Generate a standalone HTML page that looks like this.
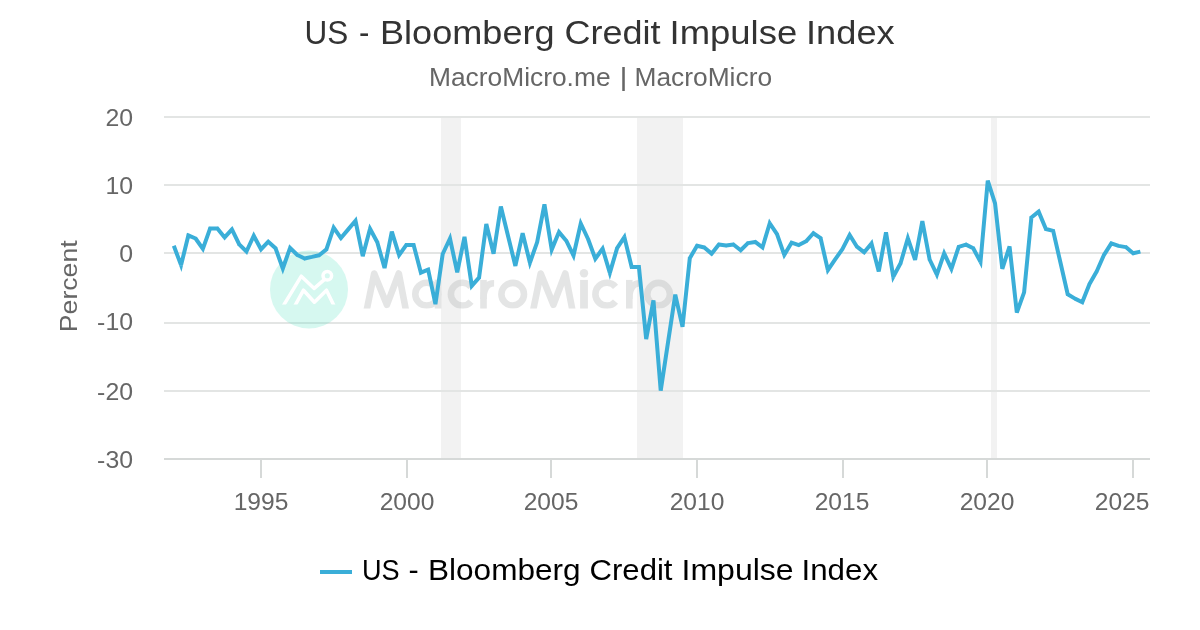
<!DOCTYPE html>
<html><head><meta charset="utf-8"><style>
html,body{margin:0;padding:0;background:#fff;}
svg{display:block;will-change:transform;font-family:"Liberation Sans",sans-serif;}
</style></head><body>
<svg width="1200" height="630" viewBox="0 0 1200 630">
<rect width="1200" height="630" fill="#fff"/>
<text x="304.50" y="44" font-size="33.9" fill="#333333" textLength="43.79" lengthAdjust="spacingAndGlyphs">US</text>
<text x="359.00" y="44" font-size="33.9" fill="#333333" textLength="10.37" lengthAdjust="spacingAndGlyphs">-</text>
<text x="380.00" y="44" font-size="33.9" fill="#333333" textLength="174.64" lengthAdjust="spacingAndGlyphs">Bloomberg</text>
<text x="564.50" y="44" font-size="33.9" fill="#333333" textLength="96.04" lengthAdjust="spacingAndGlyphs">Credit</text>
<text x="669.50" y="44" font-size="33.9" fill="#333333" textLength="127.69" lengthAdjust="spacingAndGlyphs">Impulse</text>
<text x="806.00" y="44" font-size="33.9" fill="#333333" textLength="88.68" lengthAdjust="spacingAndGlyphs">Index</text>
<text x="429.00" y="85.8" font-size="25.4" fill="#666666" textLength="181.55" lengthAdjust="spacingAndGlyphs">MacroMicro.me</text>
<text x="619.50" y="85.8" font-size="25.4" fill="#666666" textLength="8.05" lengthAdjust="spacingAndGlyphs">|</text>
<text x="634.50" y="85.8" font-size="25.4" fill="#666666" textLength="137.56" lengthAdjust="spacingAndGlyphs">MacroMicro</text>
<!-- bands -->
<rect x="441" y="118" width="20" height="340" fill="#f2f2f2"/>
<rect x="637" y="118" width="46" height="340" fill="#f2f2f2"/>
<rect x="991" y="118" width="6" height="340" fill="#f2f2f2"/>
<rect x="164" y="116" width="986" height="2" fill="#e3e5e4"/>
<rect x="164" y="184" width="986" height="2" fill="#e3e5e4"/>
<rect x="164" y="252" width="986" height="2" fill="#e3e5e4"/>
<rect x="164" y="322" width="986" height="2" fill="#e3e5e4"/>
<rect x="164" y="390" width="986" height="2" fill="#e3e5e4"/>
<rect x="164" y="458" width="986" height="2" fill="#d6d9d8"/>
<rect x="260" y="460" width="2" height="18" fill="#d6d9d8"/>
<rect x="406" y="460" width="2" height="18" fill="#d6d9d8"/>
<rect x="550" y="460" width="2" height="18" fill="#d6d9d8"/>
<rect x="696" y="460" width="2" height="18" fill="#d6d9d8"/>
<rect x="842" y="460" width="2" height="18" fill="#d6d9d8"/>
<rect x="986" y="460" width="2" height="18" fill="#d6d9d8"/>
<rect x="1132" y="460" width="2" height="18" fill="#d6d9d8"/>
<!-- watermark -->
<circle cx="309" cy="289.5" r="39" fill="#5be3c3" fill-opacity="0.25"/>
<clipPath id="icl"><rect x="270" y="250" width="80" height="54.6"/></clipPath>
<g fill="none" stroke="#fff" stroke-width="3.5" stroke-linejoin="round" clip-path="url(#icl)">
<polyline points="282.2,307.6 301.3,276.2 314.2,288.4 324.3,279.6"/>
<circle cx="327.3" cy="275.7" r="4.3"/>
<polyline points="293.9,307.6 303.5,290.2 314.4,302.2 326.5,290.2 334.9,307.6"/>
</g>
<clipPath id="wmclip"><rect x="350" y="262" width="340" height="46.6"/></clipPath>
<g opacity="0.35" fill="none" stroke="#b3b5b5" stroke-width="6.6" clip-path="url(#wmclip)">
<path d="M366.18 312.50 L374.20 273.50 L386.90 304.80 L398.80 273.50 L406.38 312.50" stroke-linejoin="round"/>
<path d="M532.68 312.50 L540.70 273.50 L553.40 304.80 L565.30 273.50 L572.88 312.50" stroke-linejoin="round"/>
<circle cx="426.7" cy="294.2" r="11.4"/>
<path d="M438 279.6 V312"/>
<path d="M471.03 286.87 A11.4 11.4 0 1 0 471.03 301.53"/>
<path d="M483.5 279.9 V312"/>
<path d="M483.5 299 C483.5 288 487.5 283.2 494.1 283.2"/>
<circle cx="512.7" cy="294.2" r="11.3"/>
<path d="M584 279.9 V312" stroke-width="7.8"/>
<circle cx="584" cy="273.3" r="4.2" fill="#b3b5b5" stroke="none"/>
<path d="M615.53 286.87 A11.4 11.4 0 1 0 615.53 301.53"/>
<path d="M629.3 279.9 V312"/>
<path d="M629.3 299 C629.3 288 633.3 283.2 639.9 283.2"/>
<circle cx="658.6" cy="294.2" r="11.3"/>
</g>
<path d="M 173.80 245.80 L 181.07 265.14 L 188.34 235.45 L 195.60 238.50 L 202.87 248.80 L 210.14 228.40 L 217.41 228.40 L 224.67 237.43 L 231.94 229.43 L 239.21 244.40 L 246.47 251.49 L 253.74 235.78 L 261.01 249.32 L 268.28 241.69 L 275.55 248.30 L 282.81 268.53 L 290.08 247.84 L 297.35 255.00 L 304.62 258.50 L 311.88 256.90 L 319.15 255.20 L 326.42 249.40 L 333.69 227.61 L 340.95 238.02 L 348.22 229.38 L 355.49 220.75 L 362.75 256.19 L 370.02 228.78 L 377.29 242.20 L 384.56 268.06 L 391.82 231.69 L 399.09 255.14 L 406.36 244.90 L 413.63 244.90 L 420.89 272.68 L 428.16 269.67 L 435.43 304.19 L 442.70 254.00 L 449.96 238.52 L 457.23 272.28 L 464.50 236.90 L 471.77 285.87 L 479.04 277.70 L 486.30 224.07 L 493.57 253.82 L 500.84 206.47 L 508.11 236.20 L 515.37 265.93 L 522.64 233.28 L 529.91 262.72 L 537.17 242.10 L 544.44 204.38 L 551.71 249.62 L 558.98 232.10 L 566.25 240.70 L 573.51 255.53 L 580.78 223.52 L 588.05 239.00 L 595.32 258.77 L 602.58 248.66 L 609.85 272.87 L 617.12 248.10 L 624.38 237.12 L 631.65 267.00 L 638.92 267.00 L 646.19 339.03 L 653.46 300.47 L 660.72 390.60 L 667.99 342.62 L 675.26 294.64 L 682.52 326.86 L 689.79 258.20 L 697.06 245.70 L 704.33 247.50 L 711.60 253.64 L 718.86 244.53 L 726.13 245.50 L 733.40 244.50 L 740.66 250.24 L 747.93 243.10 L 755.20 241.91 L 762.47 247.46 L 769.74 223.24 L 777.00 234.10 L 784.27 254.90 L 791.54 242.69 L 798.80 245.04 L 806.07 241.30 L 813.34 233.24 L 820.61 238.20 L 827.88 270.16 L 835.14 259.40 L 842.41 249.10 L 849.68 235.04 L 856.95 246.70 L 864.21 252.33 L 871.48 243.42 L 878.75 271.50 L 886.01 232.26 L 893.28 276.93 L 900.55 263.30 L 907.82 238.21 L 915.09 259.86 L 922.35 221.07 L 929.62 259.50 L 936.89 274.63 L 944.15 253.33 L 951.42 268.81 L 958.69 246.80 L 965.96 244.64 L 973.23 248.30 L 980.49 261.93 L 987.76 180.56 L 995.03 203.30 L 1002.29 268.88 L 1009.56 246.41 L 1016.83 312.62 L 1024.10 292.40 L 1031.37 217.50 L 1038.63 211.63 L 1045.90 229.00 L 1053.17 230.90 L 1060.43 262.55 L 1067.70 294.20 L 1074.97 298.60 L 1082.24 302.24 L 1089.51 284.00 L 1096.77 271.30 L 1104.04 254.80 L 1111.31 243.40 L 1118.58 245.90 L 1125.84 247.10 L 1133.11 253.32 L 1140.38 251.60" fill="none" stroke="#3aaed8" stroke-width="4" stroke-linejoin="bevel"/>
<path d="M181.07 265.14L179.20 265.84L181.47 271.90L183.01 265.61Z M188.34 235.45L186.39 234.97L186.95 232.70L189.11 233.61Z M195.60 238.50L196.38 236.66L196.91 236.88L197.24 237.35Z M202.87 248.80L201.24 249.95L203.46 253.10L204.75 249.47Z M210.14 228.40L208.25 227.73L208.73 226.40L210.14 226.40Z M217.41 228.40L217.41 226.40L218.36 226.40L218.96 227.15Z M224.67 237.43L223.12 238.68L224.58 240.50L226.15 238.77Z M231.94 229.43L230.46 228.09L232.45 225.90L233.74 228.56Z M239.21 244.40L237.41 245.27L237.56 245.59L237.81 245.83Z M246.47 251.49L245.08 252.92L247.10 254.90L248.29 252.33Z M253.74 235.78L251.93 234.94L253.61 231.30L255.51 234.83Z M261.01 249.32L259.25 250.27L260.55 252.70L262.46 250.70Z M268.28 241.69L266.83 240.31L268.18 238.90L269.62 240.21Z M275.55 248.30L276.89 246.82L277.26 247.16L277.43 247.62Z M282.81 268.53L280.93 269.20L282.83 274.50L284.70 269.19Z M290.08 247.84L288.19 247.18L289.24 244.20L291.48 246.41Z M297.35 255.00L295.94 256.42L296.18 256.66L296.48 256.80Z M304.62 258.50L303.75 260.30L304.37 260.60L305.04 260.45Z M311.88 256.90L312.31 258.85L312.33 258.85L312.34 258.85Z M319.15 255.20L319.61 257.15L320.04 257.04L320.40 256.76Z M326.42 249.40L327.67 250.96L328.13 250.59L328.32 250.03Z M333.69 227.61L331.79 226.98L333.05 223.20L335.32 226.46Z M340.95 238.02L339.31 239.16L340.80 241.30L342.48 239.31Z M355.49 220.75L353.96 219.46L356.62 216.30L357.45 220.35Z M370.02 228.78L368.09 228.27L369.38 223.40L371.78 227.83Z M377.29 242.20L379.05 241.25L379.15 241.44L379.22 241.66Z M399.09 255.14L397.18 255.73L398.38 259.60L400.72 256.30Z M406.36 244.90L404.73 243.74L405.33 242.90L406.36 242.90Z M413.63 244.90L413.63 242.90L415.17 242.90L415.56 244.39Z M420.89 272.68L418.96 273.18L419.54 275.40L421.66 274.52Z M428.16 269.67L427.40 267.82L429.62 266.90L430.12 269.26Z M442.70 254.00L440.72 253.71L440.76 253.42L440.89 253.15Z M449.96 238.52L448.15 237.67L450.67 232.30L451.92 238.10Z M471.77 285.87L469.79 286.17L470.42 290.40L473.26 287.20Z M479.04 277.70L480.53 279.03L480.93 278.57L481.02 277.97Z M529.91 262.72L527.97 263.20L529.57 269.70L531.79 263.39Z M537.17 242.10L539.06 242.76L539.11 242.62L539.14 242.48Z M551.71 249.62L549.74 249.93L550.85 256.90L553.56 250.38Z M558.98 232.10L557.13 231.33L558.39 228.30L560.50 230.81Z M566.25 240.70L567.77 239.41L567.93 239.60L568.04 239.82Z M573.51 255.53L571.72 256.41L574.21 261.50L575.46 255.98Z M580.78 223.52L578.83 223.08L580.12 217.40L582.59 222.67Z M588.05 239.00L589.86 238.15L589.90 238.23L589.93 238.31Z M595.32 258.77L593.44 259.46L594.74 263.00L596.94 259.94Z M602.58 248.66L600.96 247.50L603.33 244.20L604.50 248.09Z M609.85 272.87L607.93 273.45L609.87 279.90L611.77 273.43Z M617.12 248.10L615.20 247.54L615.28 247.25L615.45 247.00Z M624.38 237.12L622.72 236.02L625.25 232.20L626.33 236.65Z M631.65 267.00L629.71 267.47L630.08 269.00L631.65 269.00Z M638.92 267.00L638.92 265.00L640.73 265.00L640.91 266.80Z M689.79 258.20L687.80 257.99L687.85 257.56L688.06 257.19Z M697.06 245.70L695.33 244.70L696.08 243.40L697.54 243.76Z M704.33 247.50L704.81 245.56L705.26 245.67L705.62 245.97Z M711.60 253.64L710.30 255.17L711.88 256.50L713.16 254.89Z M718.86 244.53L717.30 243.28L718.00 242.40L719.13 242.55Z M726.13 245.50L725.87 247.48L726.13 247.52L726.40 247.48Z M733.40 244.50L733.12 242.52L733.97 242.40L734.64 242.93Z M740.66 250.24L739.43 251.81L740.81 252.90L742.07 251.66Z M747.93 243.10L746.53 241.67L746.98 241.23L747.61 241.13Z M755.20 241.91L754.88 239.94L755.73 239.80L756.41 240.32Z M762.47 247.46L761.25 249.05L763.55 250.80L764.38 248.03Z M769.74 223.24L767.82 222.66L769.04 218.60L771.40 222.13Z M777.00 234.10L778.67 232.99L778.81 233.20L778.89 233.44Z M784.27 254.90L782.38 255.55L783.80 259.60L785.99 255.92Z M791.54 242.69L789.82 241.67L790.63 240.30L792.15 240.79Z M798.80 245.04L798.19 246.94L798.98 247.20L799.72 246.82Z M806.07 241.30L806.99 243.08L807.31 242.91L807.56 242.64Z M813.34 233.24L811.85 231.90L813.02 230.60L814.47 231.59Z M820.61 238.20L821.74 236.55L822.38 236.99L822.56 237.76Z M827.88 270.16L825.92 270.60L826.95 275.10L829.53 271.28Z M835.14 259.40L833.48 258.28L833.50 258.26L833.51 258.25Z M842.41 249.10L844.04 250.25L844.12 250.14L844.19 250.02Z M849.68 235.04L847.90 234.12L849.52 231.00L851.38 233.98Z M856.95 246.70L855.25 247.76L855.44 248.06L855.72 248.28Z M864.21 252.33L862.99 253.91L864.53 255.10L865.76 253.59Z M871.48 243.42L869.93 242.16L872.43 239.10L873.42 242.92Z M893.28 276.93L891.31 277.25L892.26 283.10L895.05 277.87Z M900.55 263.30L902.31 264.24L902.41 264.06L902.47 263.86Z M907.82 238.21L905.90 237.65L907.68 231.50L909.71 237.57Z M929.62 259.50L927.65 259.87L927.70 260.13L927.82 260.37Z M936.89 274.63L935.09 275.49L937.20 279.90L938.78 275.27Z M944.15 253.33L942.26 252.69L943.86 248.00L945.97 252.48Z M951.42 268.81L949.61 269.66L951.75 274.20L953.32 269.43Z M958.69 246.80L956.79 246.17L957.12 245.18L958.12 244.88Z M965.96 244.64L965.39 242.73L966.15 242.50L966.86 242.86Z M973.23 248.30L974.12 246.51L974.69 246.80L974.99 247.36Z M980.49 261.93L978.73 262.87L981.89 268.80L982.49 262.11Z M995.03 203.30L996.93 202.69L996.99 202.88L997.01 203.08Z M1024.10 292.40L1025.98 293.08L1026.06 292.84L1026.09 292.59Z M1031.37 217.50L1029.37 217.31L1029.46 216.47L1030.11 215.94Z M1038.63 211.63L1037.38 210.07L1039.45 208.40L1040.48 210.86Z M1045.90 229.00L1044.05 229.77L1044.44 230.68L1045.39 230.93Z M1053.17 230.90L1053.67 228.97L1054.85 229.27L1055.12 230.45Z M1060.43 262.55L1058.49 263.00L1058.49 263.00L1058.49 263.00Z M1067.70 294.20L1065.75 294.65L1065.94 295.47L1066.67 295.91Z M1074.97 298.60L1073.93 300.31L1074.00 300.35L1074.07 300.39Z M1082.24 302.24L1081.34 304.03L1083.29 305.00L1084.09 302.98Z M1089.51 284.00L1087.65 283.26L1087.70 283.13L1087.77 283.01Z M1096.77 271.30L1098.51 272.29L1098.56 272.20L1098.60 272.11Z M1104.04 254.80L1102.21 253.99L1102.27 253.85L1102.35 253.72Z M1111.31 243.40L1109.62 242.33L1110.47 241.00L1111.96 241.51Z M1118.58 245.90L1117.93 247.79L1118.08 247.85L1118.25 247.87Z M1125.84 247.10L1126.17 245.13L1126.72 245.22L1127.14 245.58Z M1133.11 253.32L1131.81 254.84L1132.58 255.50L1133.57 255.27Z" fill="#3aaed8"/>
<g font-size="23" fill="#666666">
<text transform="translate(133 125.8) scale(1.08 1)" text-anchor="end">20</text>
<text transform="translate(133 193.6) scale(1.08 1)" text-anchor="end">10</text>
<text transform="translate(133 261.8) scale(1.08 1)" text-anchor="end">0</text>
<text transform="translate(133 329.7) scale(1.08 1)" text-anchor="end">-10</text>
<text transform="translate(133 399.6) scale(1.08 1)" text-anchor="end">-20</text>
<text transform="translate(133 467.6) scale(1.08 1)" text-anchor="end">-30</text>
<text transform="translate(261 510) scale(1.07 1)" text-anchor="middle">1995</text>
<text transform="translate(407 510) scale(1.07 1)" text-anchor="middle">2000</text>
<text transform="translate(551 510) scale(1.07 1)" text-anchor="middle">2005</text>
<text transform="translate(697 510) scale(1.07 1)" text-anchor="middle">2010</text>
<text transform="translate(842 510) scale(1.07 1)" text-anchor="middle">2015</text>
<text transform="translate(987 510) scale(1.07 1)" text-anchor="middle">2020</text>
<text transform="translate(1149.5 510) scale(1.07 1)" text-anchor="end">2025</text>
</g>
<text transform="translate(77.4 286.3) rotate(-90)" text-anchor="middle" font-size="23.5" fill="#666666" textLength="91.8" lengthAdjust="spacingAndGlyphs">Percent</text>
<rect x="320" y="570" width="32" height="4" fill="#3aaed8"/>
<text x="362.00" y="580" font-size="29.6" fill="#000" textLength="37.66" lengthAdjust="spacingAndGlyphs">US</text>
<text x="408.50" y="580" font-size="29.6" fill="#000" textLength="10.18" lengthAdjust="spacingAndGlyphs">-</text>
<text x="428.00" y="580" font-size="29.6" fill="#000" textLength="152.63" lengthAdjust="spacingAndGlyphs">Bloomberg</text>
<text x="589.50" y="580" font-size="29.6" fill="#000" textLength="83.02" lengthAdjust="spacingAndGlyphs">Credit</text>
<text x="681.50" y="580" font-size="29.6" fill="#000" textLength="112.15" lengthAdjust="spacingAndGlyphs">Impulse</text>
<text x="801.50" y="580" font-size="29.6" fill="#000" textLength="76.61" lengthAdjust="spacingAndGlyphs">Index</text>
</svg>
</body></html>
